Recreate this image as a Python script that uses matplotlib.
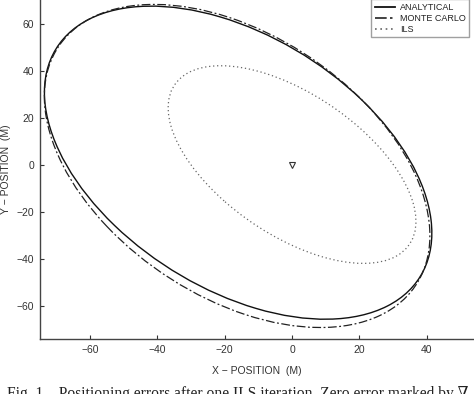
import matplotlib
matplotlib.use("Agg")
import matplotlib.pyplot as plt
from matplotlib.patches import Ellipse
from matplotlib.lines import Line2D

# error ellipses: centre (m), full axes (m), tilt (deg)
names = ["ANALYTICAL", "MONTE CARLO", "ILS"]
centre_x = [-16.0, -16.3, 0.0]
centre_y = [1.0, -0.4, 0.2]
major = [150.6, 152.7, 99.4]
minor = [90.7, 92.8, 50.8]
tilt = [-54.0, -56.5, -51.5]

styles = ["-", (0, (7, 2, 1.5, 2)), (0, (1, 2.2))]
colors = ["#111111", "#222222", "#666666"]
widths = [1.0, 0.9, 0.9]

plt.rcParams["font.family"] = ["Liberation Sans", "DejaVu Sans"]

fig = plt.figure(figsize=(4.74, 3.94), dpi=100)
ax = fig.add_axes([40 / 474, 55 / 394, 434 / 474, 339 / 394])

for i in range(3):
    e = Ellipse((centre_x[i], centre_y[i]), major[i], minor[i], angle=tilt[i],
                fill=False, edgecolor=colors[i], linestyle=styles[i], linewidth=widths[i])
    ax.add_patch(e)

# zero error marker
ax.plot([0], [0], marker="v", markersize=5, markerfacecolor="white",
        markeredgecolor="#333333", markeredgewidth=0.8, linestyle="none")

ax.set_xlim(-74.8, 54.0)
ax.set_ylim(-73.9, 70.1)
ax.set_xticks([-60, -40, -20, 0, 20, 40])
ax.set_yticks([-60, -40, -20, 0, 20, 40, 60])
ax.set_xticklabels(["\u221260", "\u221240", "\u221220", "0", "20", "40"])
ax.set_yticklabels(["\u221260", "\u221240", "\u221220", "0", "20", "40", "60"])
ax.tick_params(direction="in", length=3, width=0.8, labelsize=7.5,
               colors="#333333", pad=4)
for s in ["top", "right"]:
    ax.spines[s].set_visible(False)
for s in ["left", "bottom"]:
    ax.spines[s].set_color("#444444")
    ax.spines[s].set_linewidth(1.0)

ax.set_xlabel("X \u2212 POSITION  (M)", fontsize=7.5, color="#333333", labelpad=8)
ax.set_ylabel("Y \u2212 POSITION  (M)", fontsize=7.5, color="#333333", labelpad=4)

handles = [Line2D([], [], color=colors[i], linestyle=styles[i], linewidth=widths[i] + 0.3)
           for i in range(3)]
leg = ax.legend(handles, names, loc="upper right", bbox_to_anchor=(1.0, 1.016),
                fontsize=6.5, frameon=True, fancybox=False, handlelength=2.2,
                handletextpad=0.6, borderpad=0.4, labelspacing=0.22)
leg.get_frame().set_edgecolor("#888888")
leg.get_frame().set_linewidth(1.0)
for t in leg.get_texts():
    t.set_color("#222222")

fig.text(0.014, -0.011, "Fig. 1.   Positioning errors after one ILS iteration. Zero error marked by \u2207",
         fontsize=11.2, family=["Liberation Serif", "DejaVu Serif", "DejaVu Sans"],
         va="baseline", ha="left", color="#222222")

fig.savefig("out.png", dpi=100)
